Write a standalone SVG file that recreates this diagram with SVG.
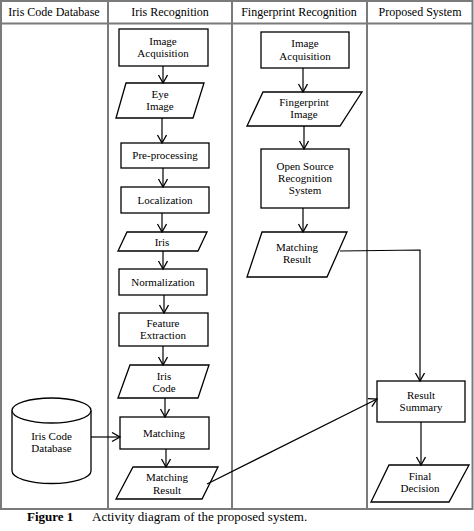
<svg xmlns="http://www.w3.org/2000/svg" width="474" height="531" viewBox="0 0 474 531">
<defs>
<marker id="arr" markerUnits="userSpaceOnUse" markerWidth="12" markerHeight="12" refX="9" refY="5" orient="auto">
<path d="M1,0.5 L9,5 L1,9.5" fill="none" stroke="#000" stroke-width="1.3"/>
</marker>
<style>
.frame{fill:none;stroke:#7a7a7a;stroke-width:2}
.node{fill:#fff;stroke:#000;stroke-width:1.3}
.t{font-family:"Liberation Serif","Times New Roman",serif;font-size:11px;fill:#000;text-anchor:middle}
.h{font-family:"Liberation Serif","Times New Roman",serif;font-size:12px;fill:#000;text-anchor:middle}
.c{fill:none;stroke:#000;stroke-width:1.2}
.cap{font-family:"Liberation Serif","Times New Roman",serif;font-size:13px;fill:#000}
</style>
</defs>
<rect width="474" height="531" fill="#fff"/>
<g id="frame">
<rect class="frame" x="1" y="1" width="471.5" height="508"/>
<line class="frame" x1="1" y1="23.5" x2="472.5" y2="23.5"/>
<line class="frame" x1="108" y1="1" x2="108" y2="509"/>
<line class="frame" x1="232" y1="1" x2="232" y2="509"/>
<line class="frame" x1="367" y1="1" x2="367" y2="509"/>
<text class="h" x="54" y="16">Iris Code Database</text>
<text class="h" x="170" y="16">Iris Recognition</text>
<text class="h" x="299" y="16">Fingerprint Recognition</text>
<text class="h" x="420" y="16">Proposed System</text>
</g>
<g id="iris-acq"><rect class="node" x="119" y="29" width="89" height="37"/><text class="t" x="163" y="45">Image</text><text class="t" x="163" y="57">Acquisition</text></g>
<g id="eye-image"><polygon class="node" points="126,83 204,83 193,118 116,118"/><text class="t" x="160" y="98">Eye</text><text class="t" x="160" y="110">Image</text></g>
<g id="preproc"><rect class="node" x="121" y="143" width="88" height="25"/><text class="t" x="165" y="159">Pre-processing</text></g>
<g id="localization"><rect class="node" x="121" y="187" width="88" height="26"/><text class="t" x="165" y="204">Localization</text></g>
<g id="iris"><polygon class="node" points="127,232 207,232 198,251 118,251"/><text class="t" x="162" y="246">Iris</text></g>
<g id="normalization"><rect class="node" x="119" y="269" width="88" height="26"/><text class="t" x="163" y="286">Normalization</text></g>
<g id="feature"><rect class="node" x="119" y="313" width="89" height="33"/><text class="t" x="163" y="327">Feature</text><text class="t" x="163" y="339">Extraction</text></g>
<g id="iris-code"><polygon class="node" points="130,365 209,365 198,398 118,398"/><text class="t" x="164" y="380">Iris</text><text class="t" x="164" y="392">Code</text></g>
<g id="matching"><rect class="node" x="120" y="417" width="89" height="32"/><text class="t" x="164" y="437">Matching</text></g>
<g id="iris-result"><polygon class="node" points="133,467 218,467 202,499 116,499"/><text class="t" x="167" y="481">Matching</text><text class="t" x="167" y="494">Result</text></g>
<g id="database">
<path class="node" d="M12,410.5 L12,471 A39.5,12.5 0 0 0 91,471 L91,410.5"/>
<ellipse class="node" cx="51.5" cy="410.5" rx="39.5" ry="12.5"/>
<text class="t" x="51.5" y="440">Iris Code</text><text class="t" x="51.5" y="452">Database</text>
</g>
<g id="fp-acq"><rect class="node" x="261" y="32" width="88" height="36"/><text class="t" x="305" y="47">Image</text><text class="t" x="305" y="60">Acquisition</text></g>
<g id="fp-image"><polygon class="node" points="263,92 362,92 340,126 247,126"/><text class="t" x="304" y="106">Fingerprint</text><text class="t" x="304" y="118">Image</text></g>
<g id="open-source"><rect class="node" x="261" y="149" width="88" height="59"/><text class="t" x="305" y="170">Open Source</text><text class="t" x="305" y="182">Recognition</text><text class="t" x="305" y="194">System</text></g>
<g id="fp-result"><polygon class="node" points="262,232 347,232 327,277 247,277"/><text class="t" x="297" y="251">Matching</text><text class="t" x="297" y="263">Result</text></g>
<g id="summary"><rect class="node" x="377" y="381" width="88" height="41"/><text class="t" x="421" y="399">Result</text><text class="t" x="421" y="411">Summary</text></g>
<g id="final"><polygon class="node" points="389,465 469,465 449,502 371,502"/><text class="t" x="420" y="480">Final</text><text class="t" x="420" y="492">Decision</text></g>
<g id="connectors">
<line class="c" x1="163" y1="66" x2="163" y2="83" marker-end="url(#arr)"/>
<line class="c" x1="162" y1="118" x2="162" y2="143" marker-end="url(#arr)"/>
<line class="c" x1="163" y1="168" x2="163" y2="187" marker-end="url(#arr)"/>
<line class="c" x1="162" y1="213" x2="162" y2="232" marker-end="url(#arr)"/>
<line class="c" x1="163" y1="251" x2="163" y2="269" marker-end="url(#arr)"/>
<line class="c" x1="164" y1="295" x2="164" y2="313" marker-end="url(#arr)"/>
<line class="c" x1="163" y1="346" x2="163" y2="365" marker-end="url(#arr)"/>
<line class="c" x1="165" y1="398" x2="165" y2="417" marker-end="url(#arr)"/>
<line class="c" x1="166" y1="449" x2="166" y2="467" marker-end="url(#arr)"/>
<line class="c" x1="91" y1="437" x2="120" y2="437" marker-end="url(#arr)"/>
<line class="c" x1="303" y1="68" x2="303" y2="92" marker-end="url(#arr)"/>
<line class="c" x1="304" y1="126" x2="304" y2="149" marker-end="url(#arr)"/>
<line class="c" x1="303" y1="208" x2="303" y2="232" marker-end="url(#arr)"/>
<polyline class="c" points="340,251 420,250 420,381" marker-end="url(#arr)"/>
<line class="c" x1="207" y1="484" x2="377" y2="399" marker-end="url(#arr)"/>
<line class="c" x1="421" y1="422" x2="421" y2="465" marker-end="url(#arr)"/>
</g>
<g id="caption">
<text class="cap" x="27" y="521" font-weight="bold">Figure 1</text>
<text class="cap" x="92" y="521">Activity diagram of the proposed system.</text>
</g>
</svg>
